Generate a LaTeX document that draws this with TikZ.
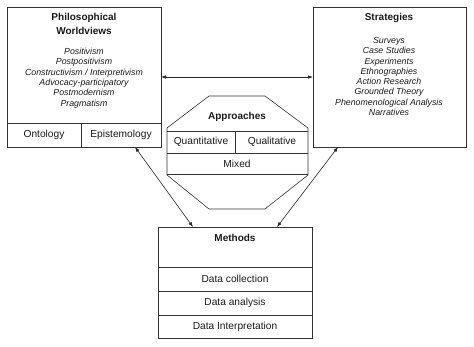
\documentclass[tikz,border=0pt]{standalone}
\usepackage{fontspec}
\setmainfont{Liberation Sans}
\usetikzlibrary{arrows.meta,calc}
\begin{document}
\begin{tikzpicture}[x=1pt,y=-1pt,
  box/.style={draw=black!80, line width=0.6pt, inner sep=0pt, outer sep=0pt},
  ln/.style={draw=black!80, line width=0.6pt},
  ttl/.style={font=\fontsize{10}{14}\selectfont\bfseries, align=center, inner sep=0pt, text=black!90},
  lst/.style={font=\fontsize{8.8}{10.3}\selectfont\itshape, align=center, inner sep=0pt, text=black!90},
  cell/.style={font=\fontsize{10.2}{12}\selectfont, inner sep=0pt, text=black!90},
  arr/.style={draw=black!85, line width=0.6pt, {Latex[length=5pt,width=3.6pt]}-{Latex[length=5pt,width=3.6pt]}}]
\useasboundingbox (0,0) rectangle (474,346);
% boxes
\node[box, minimum width=154, minimum height=140] (pw) at (84,77) {};
\node[box, minimum width=153, minimum height=140] (st) at (389.5,77) {};
\node[box, minimum width=154, minimum height=111] (me) at (235,282.5) {};
% worldview dividers
\draw[ln] (pw.west |- 0,123) -- (pw.east |- 0,123);
\draw[ln] (81,123) -- (81,147);
% methods dividers
\draw[ln] (me.west |- 0,267) -- (me.east |- 0,267);
\draw[ln] (me.west |- 0,291) -- (me.east |- 0,291);
\draw[ln] (me.west |- 0,315) -- (me.east |- 0,315);
% octagon
\coordinate (o1) at (209,96);
\coordinate (o2) at (265,96);
\coordinate (o3) at (308,128);
\coordinate (o4) at (308,175);
\coordinate (o5) at (265,209);
\coordinate (o6) at (209,209);
\coordinate (o7) at (167,175);
\coordinate (o8) at (167,128);
\draw[ln] (o1) -- (o2) -- (o3) -- (o4) -- (o5) -- (o6) -- (o7) -- (o8) -- cycle;
\draw[ln] (167,131) -- (308,131);
\draw[ln] (167,153) -- (308,153);
\draw[ln] (167,174.5) -- (308,174.5);
\draw[ln] (235,131) -- (235,153);
% texts
\node[ttl] (pwt) at (84,24) {Philosophical\\Worldviews};
\node[lst] (pwl) at (84,78) {Positivism\\Postpositivism\\Constructivism / Interpretivism\\Advocacy-participatory\\Postmodernism\\Pragmatism};
\node[cell] (ont) at (44,135) {Ontology};
\node[cell] (epi) at (121,135) {Epistemology};
\node[ttl] (stt) at (389,18) {Strategies};
\node[lst] (stl) at (389,76.5) {Surveys\\Case Studies\\Experiments\\Ethnographies\\Action Research\\Grounded Theory\\Phenomenological Analysis\\Narratives};
\node[ttl] (apt) at (237,117) {Approaches};
\node[cell] (qn) at (201,142) {Quantitative};
\node[cell] (ql) at (272,142) {Qualitative};
\node[cell] (mx) at (237,164) {Mixed};
\node[ttl] (met) at (235,238) {Methods};
\node[cell] (dc) at (235,279) {Data collection};
\node[cell] (da) at (235,303) {Data analysis};
\node[cell] (di) at (235,327) {Data Interpretation};
% arrows
\draw[arr] (pw.east) -- (st.west);
\draw[arr] ([xshift=-26pt]pw.south east) -- ([xshift=35pt]me.north west);
\draw[arr] ([xshift=25pt]st.south west) -- ([xshift=-35pt]me.north east);
\end{tikzpicture}
\end{document}
